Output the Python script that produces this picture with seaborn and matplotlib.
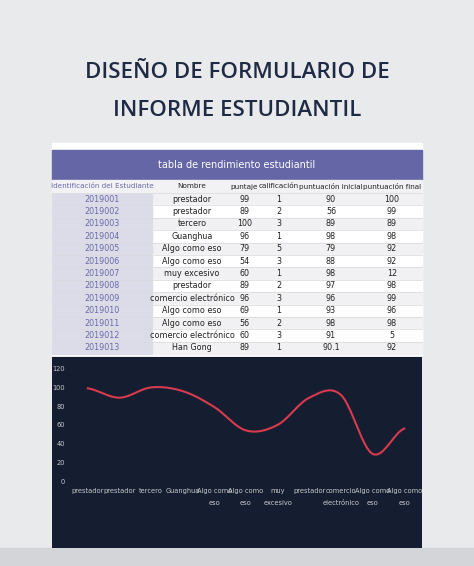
import matplotlib
matplotlib.use("Agg")
import matplotlib.pyplot as plt
import numpy as np
import pandas as pd
import seaborn as sns

# table data
ids = ["2019001", "2019002", "2019003", "2019004", "2019005", "2019006", "2019007",
       "2019008", "2019009", "2019010", "2019011", "2019012", "2019013"]
nombres = ["prestador", "prestador", "tercero", "Guanghua", "Algo como eso", "Algo como eso",
           "muy excesivo", "prestador", "comercio electrónico", "Algo como eso", "Algo como eso",
           "comercio electrónico", "Han Gong"]
puntaje = [99, 89, 100, 96, 79, 54, 60, 89, 96, 69, 56, 60, 89]
calificacion = [1, 2, 3, 1, 5, 3, 1, 2, 3, 1, 2, 3, 1]
inicial = ["90", "56", "89", "98", "79", "88", "98", "97", "96", "93", "98", "91", "90.1"]
final = [100, 99, 89, 98, 92, 92, 12, 98, 99, 96, 98, 5, 92]
headers = ["Identificación del Estudiante", "Nombre", "puntaje", "calificación",
           "puntuación inicial", "puntuación final"]

# chart data
chart_labels = ["prestador", "prestador", "tercero", "Guanghua", "Algo como\neso", "Algo como\neso",
                "muy\nexcesivo", "prestador", "comercio\nelectrónico", "Algo como\neso", "Algo como\neso"]
chart_values = [99, 89, 100, 96, 79, 54, 60, 89, 92, 29, 56]

W, H = 474, 566
fig = plt.figure(figsize=(W / 100, H / 100), dpi=100)
fig.patch.set_facecolor("#e9eaec")

# background canvas in pixel coordinates
bg = fig.add_axes([0, 0, 1, 1])
bg.set_xlim(0, W)
bg.set_ylim(H, 0)
bg.axis("off")
bg.add_patch(plt.Rectangle((0, 548), W, 18, color="#d4d5d9"))
bg.text(W / 2, 72, "DISEÑO DE FORMULARIO DE", ha="center", va="center",
        fontsize=16, color="#1f2a44", family="Open Sans", weight="semibold")
bg.text(W / 2, 110, "INFORME ESTUDIANTIL", ha="center", va="center",
        fontsize=16, color="#1f2a44", family="Open Sans", weight="semibold")

# table card
x0, x1 = 52, 422
bg.add_patch(plt.Rectangle((x0, 143), x1 - x0, 212, color="white"))
bg.add_patch(plt.Rectangle((x0, 150), x1 - x0, 30, color="#6466a6"))
bg.text(237, 165, "tabla de rendimiento estudiantil", ha="center", va="center",
        fontsize=7, color="white")
col_edges = [52, 152, 232, 257, 300, 362, 422]
bg.add_patch(plt.Rectangle((x0, 180), x1 - x0, 13, color="#f2f2f4"))
for j, h in enumerate(headers):
    c = (col_edges[j] + col_edges[j + 1]) / 2
    bg.text(c, 186.5, h, ha="center", va="center", fontsize=5.2,
            color="#6a6aa8" if j == 0 else "#222222")
row_h = 12.4
for i in range(len(ids)):
    y = 193 + i * row_h
    bg.add_patch(plt.Rectangle((152, y), x1 - 152, row_h,
                               color="#f1f1f3" if i % 2 == 0 else "white"))
    bg.add_patch(plt.Rectangle((52, y + 0.5), 100, row_h - 1, color="#dcdce9"))
    bg.plot([52, x1], [y, y], color="#d8d8dc", lw=0.5)
    vals = [ids[i], nombres[i], puntaje[i], calificacion[i], inicial[i], final[i]]
    for j, v in enumerate(vals):
        c = (col_edges[j] + col_edges[j + 1]) / 2
        bg.text(c, y + row_h / 2, str(v), ha="center", va="center", fontsize=5.8,
                color="#6a6aa8" if j == 0 else "#222222")

# chart panel
ax = fig.add_axes([52 / W, 1 - 548 / H, 370 / W, 191 / H])
ax.set_facecolor("#151d30")
ax.set_xticks([])
ax.set_yticks([])
for s in ax.spines.values():
    s.set_visible(False)
inner = fig.add_axes([72 / W, 1 - 481 / H, 348 / W, 117 / H])

# smooth curve through the read points (Catmull-Rom)
p = np.array(chart_values, dtype=float)
pts = np.concatenate([[p[0]], p, [p[-1]]])
xs, ys = [], []
for k in range(len(p) - 1):
    t = np.linspace(0, 1, 20, endpoint=False)
    a, b, c, d = pts[k], pts[k + 1], pts[k + 2], pts[k + 3]
    ys.extend(0.5 * (2 * b + (-a + c) * t + (2 * a - 5 * b + 4 * c - d) * t ** 2
                     + (-a + 3 * b - 3 * c + d) * t ** 3))
    xs.extend(k + t)
xs.append(len(p) - 1)
ys.append(p[-1])
df = pd.DataFrame({"x": xs, "y": ys})
sns.lineplot(data=df, x="x", y="y", ax=inner, color="#d83a4e", lw=1.5)

inner.set_facecolor("#151d30")
for s in inner.spines.values():
    s.set_visible(False)
inner.axhline(0, color="#8a8f9c", lw=0.6)
inner.set_ylim(0, 125)
inner.set_yticks(range(0, 121, 20))
inner.set_xlim(-0.5, len(p) - 0.5)
inner.set_xticks(range(len(p)))
inner.set_xticklabels(chart_labels, linespacing=2.2, va="top")
inner.tick_params(colors="#c8cad0", labelsize=4.8, length=0, pad=5)
inner.set_xlabel("")
inner.set_ylabel("")

fig.savefig("out.png", dpi=100, facecolor=fig.get_facecolor())
